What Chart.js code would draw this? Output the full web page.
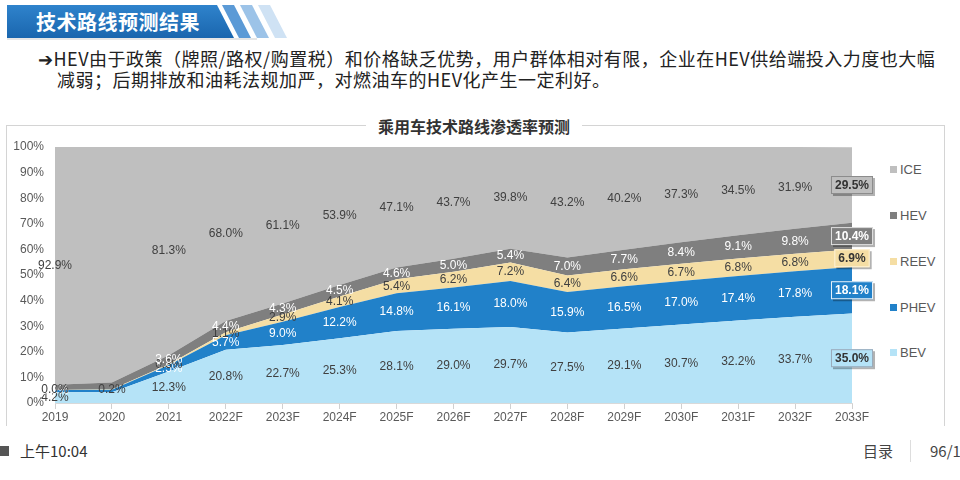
<!DOCTYPE html>
<html><head><meta charset="utf-8">
<script src="https://cdn.jsdelivr.net/npm/chart.js@4.4.1/dist/chart.umd.min.js"></script>
<style>
body{margin:0;width:960px;height:480px;overflow:hidden;background:#fff;position:relative;font-family:"Noto Sans CJK SC","Noto Sans",sans-serif;}
.abs{position:absolute;}
#banner{left:7px;top:5px;width:227px;height:33px;background:linear-gradient(#2f83cc,#1a66ae);clip-path:polygon(0 0,210px 0,227px 33px,0 33px);}
.stripe{top:5px;height:33px;width:30px;}
#btitle{left:36px;top:5px;height:33px;line-height:33px;color:#fff;font-weight:bold;font-size:20px;letter-spacing:0.5px;}
.line{font-size:18px;color:#222;white-space:nowrap;line-height:22px;letter-spacing:0.5px;}
#frame{left:6px;top:125px;width:937px;height:300px;border:1px solid #d4d4d4;border-bottom:none;}
#ctitle{left:366px;top:115px;width:216px;text-align:center;background:#fff;font-weight:bold;font-size:16px;color:#333;line-height:22px;}
.lg{font-family:"Liberation Sans",Arial,sans-serif;font-size:13px;color:#595959;line-height:16px;}
.lg i{display:inline-block;width:7px;height:7px;margin-right:3px;vertical-align:1px;}
canvas{position:absolute;left:0;top:0;}
</style></head><body>
<div id="banner" class="abs"></div>
<div class="abs stripe" style="left:222px;background:#5b9ad6;clip-path:polygon(0 0,12px 0,29px 33px,17px 33px);"></div>
<div class="abs stripe" style="left:240px;background:#9cc3e8;clip-path:polygon(0 0,12px 0,29px 33px,17px 33px);"></div>
<div class="abs stripe" style="left:258px;background:#cfe2f4;clip-path:polygon(0 0,12px 0,29px 33px,17px 33px);"></div>
<div class="abs" style="left:7px;top:38px;width:250px;height:2px;background:#e6e6e6;"></div>
<div id="btitle" class="abs">技术路线预测结果</div>
<div class="abs line" style="left:38px;top:47px;">➔HEV由于政策（牌照/路权/购置税）和价格缺乏优势，用户群体相对有限，企业在HEV供给端投入力度也大幅</div>
<div class="abs line" style="left:57px;top:68px;">减弱；后期排放和油耗法规加严，对燃油车的HEV化产生一定利好。</div>
<div id="frame" class="abs"></div>
<div id="ctitle" class="abs">乘用车技术路线渗透率预测</div>
<div id="legend"></div>
<div class="abs" style="left:0;top:446px;width:9px;height:10px;background:#555;"></div>
<div class="abs" style="left:20px;top:440px;font-size:15px;color:#333;line-height:22px;">上午10:04</div>
<div class="abs" style="left:863px;top:440px;font-size:15px;color:#444;line-height:22px;">目录</div>
<div class="abs" style="left:910px;top:440px;width:1px;height:22px;background:#ddd;"></div>
<div class="abs" style="left:930px;top:440px;font-size:15px;color:#444;line-height:22px;white-space:nowrap;">96/15</div>
<canvas id="c" width="960" height="480"></canvas>
<script>
const categories = ['2019','2020','2021','2022F','2023F','2024F','2025F','2026F','2027F','2028F','2029F','2030F','2031F','2032F','2033F'];
const bev  = [4.2, 4.2, 12.3, 20.8, 22.7, 25.3, 28.1, 29.0, 29.7, 27.5, 29.1, 30.7, 32.2, 33.7, 35.0];
const phev = [0.9, 1.0, 2.5, 5.7, 9.0, 12.2, 14.8, 16.1, 18.0, 15.9, 16.5, 17.0, 17.4, 17.8, 18.1];
const reev = [0.0, 0.2, 0.3, 1.1, 2.9, 4.1, 5.4, 6.2, 7.2, 6.4, 6.6, 6.7, 6.8, 6.8, 6.9];
const hev  = [2.0, 2.6, 3.6, 4.4, 4.3, 4.5, 4.6, 5.0, 5.4, 7.0, 7.7, 8.4, 9.1, 9.8, 10.4];
const ice  = [92.9, 92.0, 81.3, 68.0, 61.1, 53.9, 47.1, 43.7, 39.8, 43.2, 40.2, 37.3, 34.5, 31.9, 29.5];
const seriesNames = ['BEV','PHEV','REEV','HEV','ICE'];
const hiddenLabels = {BEV:[1], PHEV:[1], REEV:[], HEV:[0,1], ICE:[1]};

const colors = {BEV:'#b5e3f7', PHEV:'#2181c9', REEV:'#f5dea4', HEV:'#7f7f7f', ICE:'#bfbfbf'};
const textColors = {BEV:'#404040', PHEV:'#ffffff', REEV:'#404040', HEV:'#ffffff', ICE:'#404040'};
const boxBorders = {BEV:'#9ab', PHEV:'#e8f2fa', REEV:'#fff3d6', HEV:'#e0e0e0', ICE:'#8c8c8c'};
const values = [bev, phev, reev, hev, ice];

// legend
const lg = document.getElementById('legend');
const legendY = {ICE:162, HEV:208, REEV:254, PHEV:300, BEV:345};
['ICE','HEV','REEV','PHEV','BEV'].forEach(n=>{
  const d=document.createElement('div');
  d.className='abs lg'; d.style.left='890px'; d.style.top=legendY[n]+'px';
  d.innerHTML='<i style="background:'+colors[n]+'"></i>'+n;
  lg.appendChild(d);
});

const labelPlugin = {
  id:'segLabels',
  afterDatasetsDraw(chart){
    const ctx = chart.ctx, x = chart.scales.x, y = chart.scales.y;
    const n = categories.length;
    ctx.save();
    ctx.textAlign='center'; ctx.textBaseline='middle';
    for(let j=0;j<n;j++){
      let base=0;
      chart.data.datasets.forEach((ds,i)=>{
        const name = seriesNames[i];
        const v = ds.data[j];
        const mid = base + v/2; base += v;
        if(hiddenLabels[name].includes(j)) return;
        const px = x.getPixelForValue(j), py = y.getPixelForValue(mid);
        const txt = v.toFixed(1)+'%';
        if(j===n-1){
          ctx.font='bold 12px "Liberation Sans", Arial, sans-serif';
          const w = ctx.measureText(txt).width + 8, h = 18;
          ctx.fillStyle='rgba(0,0,0,0.3)';
          ctx.fillRect(px-w/2+2, py-h/2+2, w, h);
          ctx.fillStyle=colors[name];
          ctx.fillRect(px-w/2, py-h/2, w, h);
          ctx.strokeStyle=boxBorders[name]; ctx.lineWidth=1;
          ctx.strokeRect(px-w/2+0.5, py-h/2+0.5, w-1, h-1);
          ctx.fillStyle = (name==='PHEV'||name==='HEV') ? '#ffffff' : '#333333';
          ctx.fillText(txt, px, py+0.5);
        } else {
          ctx.font='12px "Liberation Sans", Arial, sans-serif';
          ctx.fillStyle=textColors[name];
          ctx.fillText(txt, px, py);
        }
      });
    }
    ctx.restore();
  }
};

new Chart(document.getElementById('c'), {
  type:'line',
  data:{
    labels: categories,
    datasets: seriesNames.map((n,i)=>({
      label:n, data:values[i], fill: i===0 ? 'origin' : '-1',
      backgroundColor:colors[n], borderColor:colors[n], borderWidth:0,
      pointRadius:0, tension:0
    }))
  },
  options:{
    responsive:false, animation:false,
    layout:{padding:{left:0, top:147, right:108, bottom:47}},
    plugins:{legend:{display:false}, tooltip:{enabled:false}},
    scales:{
      x:{
        offset:false,
        grid:{display:true, drawOnChartArea:false, drawTicks:true, tickLength:6, color:'#d0d0d0'},
        border:{display:true, color:'#d9d9d9'},
        ticks:{color:'#595959', font:{family:'"Liberation Sans", Arial, sans-serif', size:12}, padding:1, maxRotation:0, autoSkip:false},
        afterFit(s){ s.height = 30; }
      },
      y:{
        stacked:true, min:0, max:100,
        grid:{display:false, drawTicks:false},
        border:{display:false},
        ticks:{stepSize:10, color:'#595959', padding:11, font:{family:'"Liberation Sans", Arial, sans-serif', size:12}, callback:v=>v+'%'},
        afterFit(s){ s.width = 55; }
      }
    }
  },
  plugins:[labelPlugin]
});
</script>
</body></html>
